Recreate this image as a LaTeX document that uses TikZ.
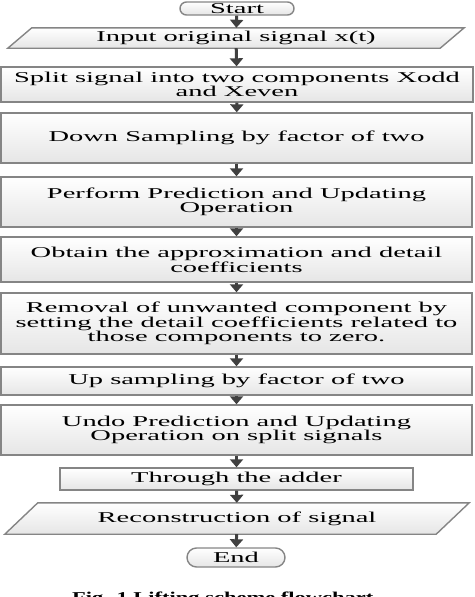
\documentclass[tikz,border=0pt]{standalone}
\usepackage{fontspec}
\setmainfont{Liberation Serif}[FakeStretch=1.9]
\newfontfamily\capfont{Liberation Serif}[FakeStretch=1.5]
\usetikzlibrary{arrows.meta,backgrounds}
\definecolor{edgegray}{HTML}{858585}
\definecolor{arrowgray}{HTML}{404040}
\tikzset{
  boxstyle/.style={draw=edgegray, line width=1.4pt, top color=white, bottom color=black!10,
    inner sep=0pt, align=center, font=\fontsize{15}{13}\selectfont},
  paratext/.style={draw=none, inner sep=0pt, align=center, font=\fontsize{15}{13}\selectfont},
  parashape/.style={draw=edgegray, line width=1.4pt, top color=white, bottom color=black!10},
  termstyle/.style={boxstyle, rounded corners=8pt},
  flowarrow/.style={draw=arrowgray, line width=3pt, -{Triangle[width=13pt,length=8pt]}}
}
\begin{document}
\begin{tikzpicture}[x=1pt,y=-1pt]
\useasboundingbox (0,0) rectangle (474,597);
\node[termstyle, minimum width=114pt, minimum height=13pt, rounded corners=6.5pt] (start) at (237,8.5) {Start};
\node[paratext, minimum width=432pt, minimum height=20pt] (inp) at (236,38) {Input original signal x(t)};
\node[boxstyle, minimum width=472pt, minimum height=35pt] (split) at (237,84.5) {Split signal into two components Xodd\\and Xeven};
\node[boxstyle, minimum width=471pt, minimum height=50pt] (down) at (236.5,138) {Down Sampling by factor of two};
\node[boxstyle, minimum width=471pt, minimum height=50pt] (perf) at (236.5,202) {Perform Prediction and Updating\\Operation};
\node[boxstyle, minimum width=471pt, minimum height=45pt] (obt) at (236.5,259.5) {Obtain the approximation and detail\\coefficients};
\node[boxstyle, minimum width=471pt, minimum height=61pt] (rem) at (236.5,323.5) {Removal of unwanted component by\\setting the detail coefficients related to\\those components to zero.};
\node[boxstyle, minimum width=471pt, minimum height=28pt] (up) at (236.5,381) {Up sampling by factor of two};
\node[boxstyle, minimum width=471pt, minimum height=50pt] (undo) at (236.5,430) {Undo Prediction and Updating\\Operation on split signals};
\node[boxstyle, minimum width=353pt, minimum height=22pt] (add) at (236.5,479) {Through the adder};
\node[paratext, minimum width=431pt, minimum height=31pt] (rec) at (237,518.5) {Reconstruction of signal};
\node[termstyle, minimum width=98pt, minimum height=19pt, rounded corners=9.5pt] (end) at (236,557.5) {End};
\begin{pgfonlayer}{background}
\path[parashape] ([xshift=-12pt]inp.south west) -- ([xshift=-12pt]inp.south east) -- ([xshift=12pt]inp.north east) -- ([xshift=12pt]inp.north west) -- cycle;
\path[parashape] ([xshift=-16.5pt]rec.south west) -- ([xshift=-16.5pt]rec.south east) -- ([xshift=16.5pt]rec.north east) -- ([xshift=16.5pt]rec.north west) -- cycle;
\end{pgfonlayer}
\draw[flowarrow] (start) -- (inp);
\draw[flowarrow] (inp) -- (split);
\draw[flowarrow] (split) -- (down);
\draw[flowarrow] (down) -- (perf);
\draw[flowarrow] (perf) -- (obt);
\draw[flowarrow] (obt) -- (rem);
\draw[flowarrow] (rem) -- (up);
\draw[flowarrow] (up) -- (undo);
\draw[flowarrow] (undo) -- (add);
\draw[flowarrow] (add) -- (rec);
\draw[flowarrow] (rec) -- (end);
\node[anchor=base west, inner sep=0pt, font=\capfont\bfseries\fontsize{15}{15}\selectfont] (cap) at (72,602) {Fig. 1 Lifting scheme flowchart};
\end{tikzpicture}
\end{document}
